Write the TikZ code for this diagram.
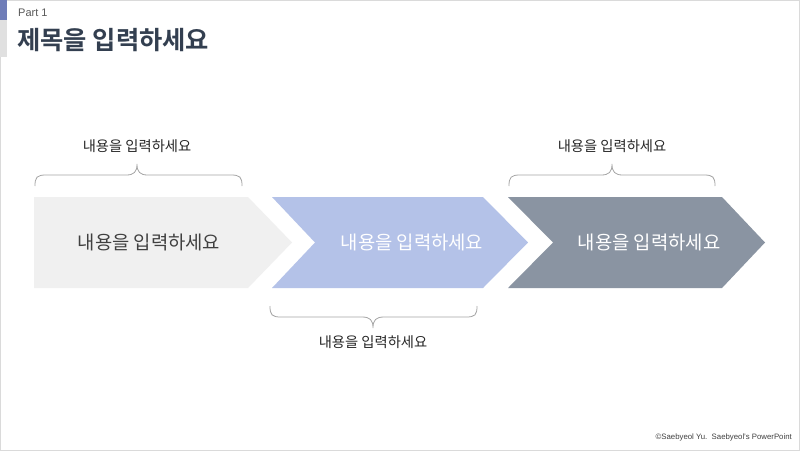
\documentclass[tikz,border=0pt]{standalone}
\usepackage{fontspec}
\setmainfont{Liberation Sans}
\newfontfamily\kr{Noto Sans CJK KR}
\newfontfamily\krb{Noto Sans CJK KR Bold}
\definecolor{shapeA}{HTML}{F0F0F0}
\definecolor{shapeB}{HTML}{B4C2E8}
\definecolor{shapeC}{HTML}{8A94A2}
\definecolor{bracec}{HTML}{A6A6A6}
\definecolor{titlec}{HTML}{333F50}
\definecolor{txtdark}{HTML}{404040}
\definecolor{accent}{HTML}{6F7DB8}
\definecolor{framec}{HTML}{DADADA}
\tikzset{
  lbl/.style={font=\kr\fontsize{14.3}{16}\selectfont, text=black!85, inner sep=0pt},
  biglbl/.style={font=\kr\fontsize{18.8}{21}\selectfont, inner sep=0pt},
  bracestyle/.style={draw=bracec, line width=0.8pt}
}
\begin{document}
\begin{tikzpicture}[x=1pt,y=-1pt]
\useasboundingbox (0,0) rectangle (800,451);
\fill[white] (0,0) rectangle (800,451);
\draw[framec, line width=1pt] (0.5,0.5) rectangle (799.5,450.5);
% left accent bar
\fill[accent] (0,0) rectangle (7,20);
\fill[black!12] (0,20) rectangle (7,57);
% titles
\node[anchor=west, inner sep=0pt, font=\fontsize{11}{13}\selectfont, text=black!65] (part) at (18,13) {Part 1};
\node[anchor=west, inner sep=0pt, font=\krb\fontsize{25.3}{30}\selectfont, text=titlec] (title) at (17,40) {제목을 입력하세요};
% chevrons
\fill[shapeA] (34,197) -- (248,197) -- (292,242.5) -- (248,288) -- (34,288) -- cycle;
\fill[shapeB] (272,197) -- (483,197) -- (528,242.5) -- (483,288) -- (272,288) -- (315,242.5) -- cycle;
\fill[shapeC] (508,197) -- (722,197) -- (765,242.5) -- (722,288) -- (508,288) -- (553,242.5) -- cycle;
\node[biglbl, text=txtdark] (t1) at (149,242) {내용을 입력하세요};
\node[biglbl, text=white] (t2) at (412,242) {내용을 입력하세요};
\node[biglbl, text=white] (t3) at (649,242) {내용을 입력하세요};
% braces
\draw[bracestyle] (35,186) .. controls (35,177) and (37,175) .. (46,175) -- (126,175) .. controls (134,175) and (137,172) .. (137,164) .. controls (137,172) and (140,175) .. (148,175) -- (231,175) .. controls (240,175) and (242,177) .. (242,186);
\draw[bracestyle] (509,186) .. controls (509,177) and (511,175) .. (520,175) -- (601,175) .. controls (609,175) and (612,172) .. (612,164) .. controls (612,172) and (615,175) .. (623,175) -- (704,175) .. controls (713,175) and (715,177) .. (715,186);
\draw[bracestyle] (270,306) .. controls (270,315) and (272,317) .. (281,317) -- (362,317) .. controls (370,317) and (373,320) .. (373,328) .. controls (373,320) and (376,317) .. (384,317) -- (466,317) .. controls (475,317) and (477,315) .. (477,306);
\node[lbl] (l1) at (137,146) {내용을 입력하세요};
\node[lbl] (l2) at (373,342) {내용을 입력하세요};
\node[lbl] (l3) at (612,146) {내용을 입력하세요};
% footer
\node[anchor=east, inner sep=0pt, font=\fontsize{7.8}{9}\selectfont, text=black!75] (foot) at (792,437) {\textcopyright Saebyeol Yu.\ \ Saebyeol's PowerPoint};
\end{tikzpicture}
\end{document}
